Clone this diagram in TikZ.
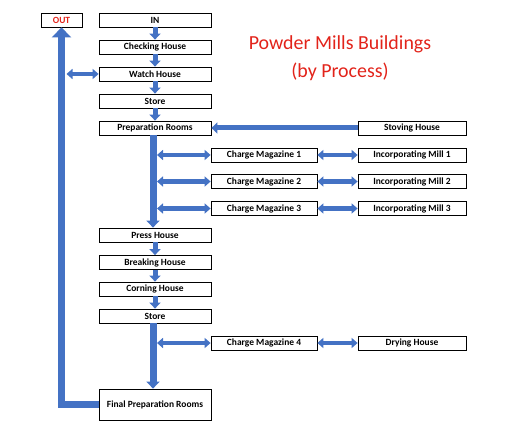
\documentclass[tikz,border=0pt]{standalone}
\usepackage{fontspec}
\setmainfont{Carlito}
\usepackage{tikz}
\usetikzlibrary{arrows.meta}
\definecolor{flowblue}{HTML}{4472C4}
\definecolor{titlered}{HTML}{E2231A}

\begin{document}
\begin{tikzpicture}[x=1bp, y=-1bp,
    box/.style={draw, line width=0.8pt, minimum height=14bp, inner sep=0pt,
      font=\bfseries\fontsize{9.5}{11}\selectfont},
    flow/.style={draw=flowblue, line width=5bp, -{Triangle[width=11bp, length=6bp]}},
    spine/.style={draw=flowblue, line width=7bp, -{Triangle[width=13bp, length=7bp]}},
    dbl/.style={draw=flowblue, line width=4.5bp, {Triangle[width=10bp, length=6bp]}-{Triangle[width=10bp, length=6bp]}},
    ret/.style={draw=flowblue, line width=7bp, line join=miter, -{Triangle[width=19bp, length=10bp]}}]
    \useasboundingbox (0,0) rectangle (508,434);
    \node[text=titlered, align=center, font=\fontsize{20}{28}\selectfont] (title) at (340,58){Powder Mills Buildings\\(by Process)};
    \node[box, minimum width=41bp, text=titlered] (out) at (61.5,20){OUT};
    \node[box, minimum width=112bp] (in) at (155,20){IN};
    \node[box, minimum width=112bp] (check) at (155,47){Checking House};
    \node[box, minimum width=112bp] (watch) at (155,74){Watch House};
    \node[box, minimum width=112bp] (store1) at (155,101){Store};
    \node[box, minimum width=112bp] (prep) at (155,128){Preparation Rooms};
    \node[box, minimum width=108bp] (stove) at (412,128){Stoving House};
    \node[box, minimum width=106bp] (cm1) at (264,155){Charge Magazine 1};
    \node[box, minimum width=106bp] (cm2) at (264,181.5){Charge Magazine 2};
    \node[box, minimum width=106bp] (cm3) at (264,208.5){Charge Magazine 3};
    \node[box, minimum width=108bp] (im1) at (412,155){Incorporating Mill 1};
    \node[box, minimum width=108bp] (im2) at (412,181.5){Incorporating Mill 2};
    \node[box, minimum width=108bp] (im3) at (412,208.5){Incorporating Mill 3};
    \node[box, minimum width=112bp] (press) at (155,235){Press House};
    \node[box, minimum width=112bp] (break) at (155,262.5){Breaking House};
    \node[box, minimum width=112bp] (corn) at (155,289){Corning House};
    \node[box, minimum width=112bp] (store2) at (155,316){Store};
    \node[box, minimum width=106bp] (cm4) at (264,343){Charge Magazine 4};
    \node[box, minimum width=108bp] (dry) at (412,343){Drying House};
    \node[box, minimum width=112bp, minimum height=31bp] (final) at (155,404.5){Final Preparation Rooms};
    \draw[flow] (in)--(check);
    \draw[flow] (check)--(watch);
    \draw[flow] (watch)--(store1);
    \draw[flow] (store1)--(prep);
    \draw[flow] (press)--(break);
    \draw[flow] (break)--(corn);
    \draw[flow] (corn)--(store2);
    \draw[spine] ([xshift=-2bp]prep.south)--([xshift=-2bp]press.north);
    \draw[spine] ([xshift=-2bp]store2.south)--([xshift=-2bp]final.north);
    \draw[ret] (final.west)--(final.west -| out.south)--(out.south);
    \draw[dbl] ([xshift=5bp]watch.west -| out.south)--(watch.west);
    \draw[flow] (stove)--(prep);
    \draw[dbl] ([xshift=2bp]cm1.west -| prep.south)--(cm1.west);
    \draw[dbl] ([xshift=2bp]cm2.west -| prep.south)--(cm2.west);
    \draw[dbl] ([xshift=2bp]cm3.west -| prep.south)--(cm3.west);
    \draw[dbl] ([xshift=2bp]cm4.west -| store2.south)--(cm4.west);
    \draw[dbl] (cm1)--(im1);
    \draw[dbl] (cm2)--(im2);
    \draw[dbl] (cm3)--(im3);
    \draw[dbl] (cm4)--(dry);
  \end{tikzpicture}
\end{document}
